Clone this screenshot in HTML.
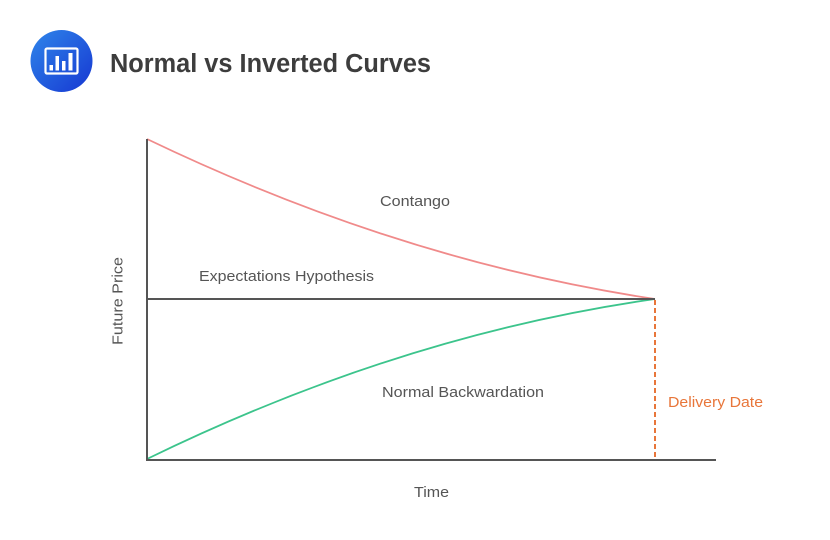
<!DOCTYPE html>
<html>
<head>
<meta charset="utf-8">
<style>
  html, body { margin: 0; padding: 0; background: #ffffff; }
  body { width: 830px; height: 540px; overflow: hidden; }
  svg { display: block; }
  text { font-family: "Liberation Sans", "DejaVu Sans", sans-serif; }
</style>
</head>
<body>
<svg width="830" height="540" viewBox="0 0 830 540" xmlns="http://www.w3.org/2000/svg">
  <defs>
    <linearGradient id="g" x1="0" y1="0" x2="1" y2="1">
      <stop offset="0" stop-color="#2f86ea"/>
      <stop offset="1" stop-color="#1637d2"/>
    </linearGradient>
  </defs>
  <rect width="830" height="540" fill="#ffffff"/>

  <!-- Icon -->
  <circle cx="61.5" cy="61" r="31" fill="url(#g)"/>
  <rect x="45.5" y="48.5" width="32" height="25" rx="1.5" fill="none" stroke="#ffffff" stroke-width="2.2"/>
  <rect x="49.5" y="65" width="3.5" height="5.5" fill="#ffffff"/>
  <rect x="55.5" y="56" width="3.5" height="14.5" fill="#ffffff"/>
  <rect x="62" y="61" width="3.5" height="9.5" fill="#ffffff"/>
  <rect x="68.5" y="53" width="4" height="17.5" fill="#ffffff"/>

  <!-- Title -->
  <text x="110" y="72" font-size="25.5" font-weight="bold" fill="#3d3d3d" textLength="321" lengthAdjust="spacingAndGlyphs">Normal vs Inverted Curves</text>

  <!-- Curves -->
  <path d="M147,139 Q401,261 655,299" fill="none" stroke="#f08a8a" stroke-width="1.8"/>
  <path d="M147,459 Q401,335 655,299" fill="none" stroke="#3cc48c" stroke-width="1.8"/>

  <!-- Expectations line -->
  <line x1="147" y1="299" x2="655" y2="299" stroke="#555555" stroke-width="2"/>

  <!-- Delivery dashed line -->
  <line x1="655" y1="300" x2="655" y2="460" stroke="#e8763a" stroke-width="2" stroke-dasharray="5,3"/>

  <!-- Axes -->
  <line x1="147" y1="139" x2="147" y2="461" stroke="#555555" stroke-width="2"/>
  <line x1="146" y1="460" x2="716" y2="460" stroke="#555555" stroke-width="2"/>

  <!-- Labels -->
  <text x="380" y="206" font-size="14.5" fill="#555555" textLength="70" lengthAdjust="spacingAndGlyphs">Contango</text>
  <text x="199" y="281" font-size="14.5" fill="#555555" textLength="175" lengthAdjust="spacingAndGlyphs">Expectations Hypothesis</text>
  <text x="382" y="397" font-size="14.5" fill="#555555" textLength="162" lengthAdjust="spacingAndGlyphs">Normal Backwardation</text>
  <text x="668" y="407" font-size="14.5" fill="#e8763a" textLength="95" lengthAdjust="spacingAndGlyphs">Delivery Date</text>
  <text x="414" y="497" font-size="14.5" fill="#555555" textLength="35" lengthAdjust="spacingAndGlyphs">Time</text>
  <text x="0" y="0" font-size="14.5" fill="#555555" textLength="88" lengthAdjust="spacingAndGlyphs" transform="translate(122.5,345) rotate(-90)">Future Price</text>
</svg>
</body>
</html>
